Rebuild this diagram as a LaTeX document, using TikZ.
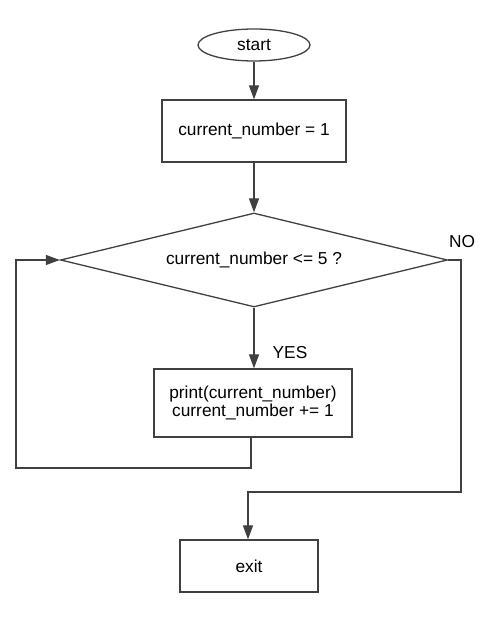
\documentclass[tikz,border=0pt]{standalone}
\usepackage{fontspec}
\setmainfont{Liberation Sans}
\usetikzlibrary{shapes.geometric,arrows.meta}
\begin{document}
\begin{tikzpicture}[x=1pt,y=1pt,
  every node/.style={font=\fontsize{17.3}{21}\selectfont},
  shapeline/.style={draw=black!75,line width=1.3pt},
  procbox/.style={shapeline,rectangle,inner sep=0pt,align=center},
  conn/.style={draw=black!75,line width=1.3pt},
  arr/.style={conn,-{Triangle[length=14pt,width=10pt]}}]
\useasboundingbox (0,0) rectangle (500,624);
\node[shapeline,ellipse,minimum width=112pt,minimum height=32pt,inner sep=0pt] (start) at (254,579) {start};
\node[procbox,minimum width=184pt,minimum height=62pt] (init) at (254,493) {current\_number = 1};
\node[shapeline,diamond,aspect=4.12,minimum width=387pt,minimum height=94pt,inner sep=0pt] (cond) at (254,364) {current\_number <= 5 ?};
\node[procbox,minimum width=198pt,minimum height=68pt] (body) at (253,221) {print(current\_number)\\[-3pt]current\_number += 1};
\node[procbox,minimum width=138pt,minimum height=52pt] (exit) at (249,58) {exit};
\node (yes) at (290,271) {YES};
\node (no) at (462,382) {NO};
\coordinate (lb) at (251,156);
\coordinate (ll) at (16,156);
\coordinate (lt) at (16,364);
\coordinate (nr) at (461,364);
\coordinate (nb) at (461,132);
\coordinate (nl) at (248,132);
\draw[arr] (start) -- (init);
\draw[arr] (init) -- (cond.north);
\draw[arr] (cond.south) -- (cond.south |- body.north);
\draw[arr] ([xshift=-2pt]body.south) -- (lb) -- (ll) -- (lt) -- (cond.west);
\draw[arr] (cond.east) -- (nr) -- (nb) -- (nl) -- ([xshift=-1pt]exit.north);
\end{tikzpicture}
\end{document}
